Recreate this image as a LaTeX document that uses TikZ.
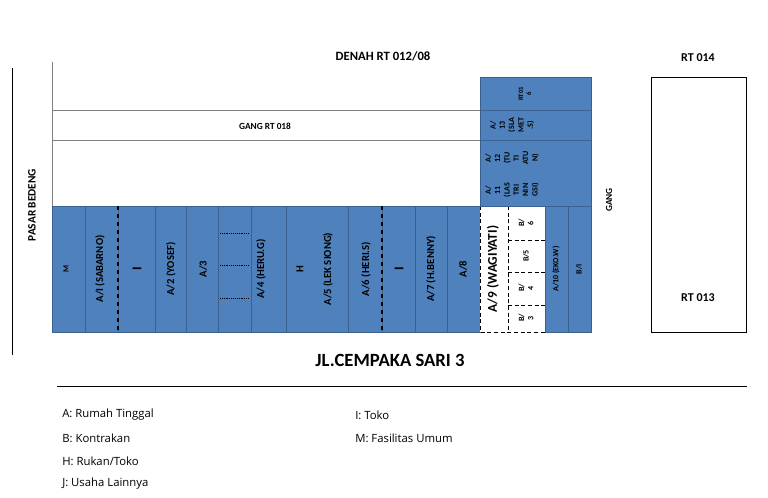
\documentclass[tikz,border=0pt]{standalone}
\usepackage{fontspec}
\setmainfont{Carlito}
\newfontfamily\legfont{Open Sans}
\begin{document}
\begin{tikzpicture}[x=0.75pt,y=-0.75pt,
  lot/.style={draw=lotline,fill=lotblue,line width=0.5pt},
  vt/.style={rotate=90,font=\bfseries\fontsize{8}{9}\selectfont,align=center,inner sep=0pt},
  vs/.style={rotate=90,font=\bfseries\fontsize{6}{7}\selectfont,align=center,inner sep=0pt},
  leg/.style={anchor=west,font=\legfont\fontsize{8.5}{10}\selectfont,inner sep=0pt}]
\definecolor{lotblue}{HTML}{4F81BD}
\definecolor{lotline}{HTML}{3A6190}
\useasboundingbox (0,0) rectangle (768,497);
% white area lines
\draw[gray] (52,62) -- (52,206);
\draw[gray] (52,110) -- (480,110);
\draw[gray] (52,140) -- (480,140);
\node[font=\bfseries\fontsize{7}{8}\selectfont] (gang) at (265,126) {GANG RT 018};
% bottom lots
\foreach \a/\b in {52/85,85/118,118/155,155/186,186/218,218/251,251/286,286/348,348/382,382/415,415/447,447/480}
  \draw[lot] (\a,206) rectangle (\b,332);
\draw[black,dashed,thick] (118,206) -- (118,332);
\draw[black,dashed,thick] (382,206) -- (382,332);
\foreach \y in {233,265,298} \draw[black,densely dotted] (220,\y) -- (249,\y);
\node[vs] (m) at (66,269) {M};
\node[vt] (a1) at (100,269) {A/I (SABARNO)};
\node[vt,font=\bfseries\fontsize{10}{11}\selectfont] (i1) at (137,269) {I};
\node[vt] (a2) at (171,269) {A/2 (YOSEF)};
\node[vt] (a3) at (203,269) {A/3};
\node[vt] (a4) at (261,269) {A/4 (HERU.G)};
\node[vt] (h) at (300,269) {H};
\node[vt] (a5) at (328,269) {A/5 (LEK SIONG)};
\node[vt] (a6) at (366,269) {A/6 (HERI.S)};
\node[vt,font=\bfseries\fontsize{10}{11}\selectfont] (i2) at (399,269) {I};
\node[vt] (a7) at (431,269) {A/7 (H.BENNY)};
\node[vt] (a8) at (463,269) {A/8};
% A/9 block
\draw[black,densely dashed,fill=white] (480,206) rectangle (545,332);
\draw[black,densely dashed] (508,206) -- (508,332);
\foreach \y in {240,272,305} \draw[black,densely dashed] (508,\y) -- (545,\y);
\node[vt,font=\bfseries\fontsize{10}{11}\selectfont] (a9) at (493,269) {A/9 (WAGIYATI)};
\node[vs] (b6) at (526,223) {B/\\6};
\node[vs] (b5) at (526,256) {B/5};
\node[vs] (b4) at (526,288) {B/\\4};
\node[vs] (b3) at (526,318) {B/\\3};
\node[vs] at (517,318) {};
\node[vs] (b2) at (517,319) {};
% adjust: B/2 and B/3 at bottom
\draw[lot] (545,206) rectangle (568,332);
\draw[lot] (568,206) rectangle (591,332);
\node[vs] (a10) at (556,269) {A/10 (EKO.W)};
\node[vs] (bi) at (579,269) {B/I};
% upper column
\draw[lot] (480,77) rectangle (591,110);
\draw[lot] (480,110) rectangle (591,140);
\draw[lot] (480,140) rectangle (591,206);
\node[vs,font=\bfseries\fontsize{5}{6}\selectfont] (rt16) at (525,94) {RT01\\6};
\node[vs] (a13) at (512,125) {A/\\13\\(SLA\\MET\\.S)};
\node[vs] (a12) at (512,158) {A/\\12\\(TU\\TI\\ATU\\N)};
\node[vs] (a11) at (512,190) {A/\\11\\(LAS\\TRI\\NIN\\GSI)};
% RT013
\draw[black] (651,77) rectangle (746,332);
\node[font=\bfseries\fontsize{9}{10}\selectfont] (rt13) at (698,298) {RT 013};
\node[font=\bfseries\fontsize{9}{10}\selectfont] (rt14) at (698,58) {RT 014};
\node[font=\bfseries\fontsize{9.5}{10}\selectfont] (title) at (383,56) {DENAH RT 012/08};
\node[vs,font=\bfseries\fontsize{7}{8}\selectfont] (g2) at (609,200) {GANG};
\node[vs,font=\bfseries\fontsize{8.5}{9}\selectfont] (pb) at (32,205) {PASAR BEDENG};
\draw[black] (12,68) -- (12,355);
\node[font=\bfseries\fontsize{14}{16}\selectfont] (jl) at (390,360) {JL.CEMPAKA SARI 3};
\draw[black] (57,386) -- (747,386);
\node[leg] (l1) at (62,415) {A: Rumah Tinggal};
\node[leg] (l2) at (62,438) {B: Kontrakan};
\node[leg] (l3) at (62,461) {H: Rukan/Toko};
\node[leg] (l4) at (62,484) {J: Usaha Lainnya};
\node[leg] (l5) at (355,415) {I: Toko};
\node[leg] (l6) at (355,438) {M: Fasilitas Umum};
\end{tikzpicture}
\end{document}
